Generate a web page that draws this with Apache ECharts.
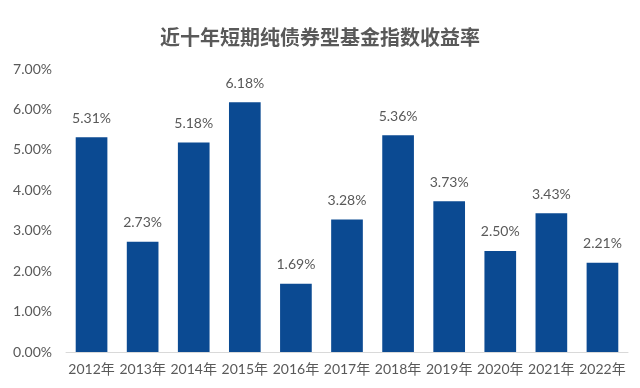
<!DOCTYPE html>
<html><head><meta charset="utf-8">
<script src="https://cdn.jsdelivr.net/npm/echarts@6/dist/echarts.min.js"></script>
<style>html,body{margin:0;padding:0;background:#fff}#c{width:640px;height:388px}</style>
</head><body><div id="c"></div>
<script>
const title = '近十年短期纯债券型基金指数收益率';
const categories = ['2012年','2013年','2014年','2015年','2016年','2017年','2018年','2019年','2020年','2021年','2022年'];
const values = [5.31, 2.73, 5.18, 6.18, 1.69, 3.28, 5.36, 3.73, 2.50, 3.43, 2.21];
const yTicks = {min: 0, max: 7, interval: 1};

const chart = echarts.init(document.getElementById('c'));
const font = 'Lato, "Noto Sans CJK SC", sans-serif';
chart.setOption({
  animation: false,
  title: {text: title, left: 'center', top: 22,
    textStyle: {fontFamily: '"Noto Sans CJK SC", serif', fontWeight: 'bold', fontSize: 20, color: '#595959'}},
  grid: {left: 66, right: 12, top: 69, bottom: 36},
  xAxis: {type: 'category', data: categories,
    axisLine: {lineStyle: {color: '#d9d9d9'}}, axisTick: {show: false},
    axisLabel: {color: '#595959', fontSize: 14, fontFamily: font, margin: 10, interval: 0}},
  yAxis: {type: 'value', min: yTicks.min, max: yTicks.max, interval: yTicks.interval,
    splitLine: {show: false}, axisLine: {show: false}, axisTick: {show: false},
    axisLabel: {color: '#595959', fontSize: 14, fontFamily: font, margin: 14,
      formatter: v => v.toFixed(2) + '%'}},
  series: [{type: 'bar', data: values, barWidth: '62%',
    itemStyle: {color: '#0B4A92'},
    label: {show: true, position: 'top', distance: 12, color: '#595959', fontSize: 14, fontFamily: font,
      formatter: p => p.value.toFixed(2) + '%'}}]
});
</script></body></html>
